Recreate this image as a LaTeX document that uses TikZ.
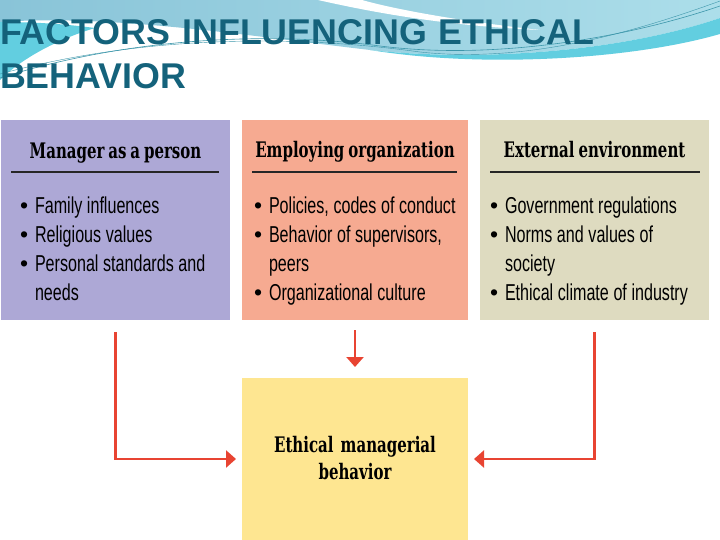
\documentclass[tikz,border=0pt]{standalone}
\usepackage{fontspec}
\setmainfont{Liberation Sans}
\newfontfamily\headfont[FakeStretch=0.7,WordSpace=0.75]{DejaVu Serif}
\newfontfamily\bodyfont[FakeStretch=0.7]{Liberation Sans}
\usetikzlibrary{arrows.meta}
\usetikzlibrary{positioning,calc}
\definecolor{boxpurple}{RGB}{173,168,214}
\definecolor{boxsalmon}{RGB}{246,170,145}
\definecolor{boxbeige}{RGB}{222,219,192}
\definecolor{boxyellow}{RGB}{254,230,145}
\definecolor{arrowred}{RGB}{232,68,50}
\definecolor{titleteal}{RGB}{20,98,123}
\definecolor{topblue}{RGB}{137,196,216}
\definecolor{paleblue}{RGB}{172,222,234}
\definecolor{swcyan}{RGB}{98,206,224}
\definecolor{swline}{RGB}{60,150,170}

\newcommand{\bodysize}{\fontsize{23}{29}\selectfont\spaceskip=4.6pt plus 1pt minus 1pt\relax}
\newcommand{\bitem}[1]{\par\noindent\hangindent=15pt\hangafter=1\hbox to 15pt{\strut\normalfont\textbullet\hss}#1}

\tikzset{
	every node/.style={inner sep=0pt,outer sep=0pt}
}
\tikzset{
	factor box/.style={rectangle,minimum width=229pt,minimum height=200pt},
	head text/.style={font=\headfont\bfseries\fontsize{21.4}{27.5}\selectfont,anchor=base},
	body text/.style={font=\bodyfont,anchor=north west,text width=215pt},
	head rule/.style={line width=1.3pt,black!85},
	flow/.style={-{Triangle[length=10pt,width=17pt]},line width=2.6pt,arrowred}
}

\begin{document}
\begin{tikzpicture}[x=1pt,y=-1pt]
	\useasboundingbox (0,0) rectangle (720,540);
	% slide background
	\shade[left color=topblue,right color=paleblue] (0,0) -- (720,0) -- (720,18) .. controls (620,52) and (480,62) .. (370,50) .. controls (250,36) and (110,14) .. (0,22) -- cycle;
	\fill[swcyan] (720,18) .. controls (620,52) and (480,62) .. (370,50) .. controls (480,68) and (630,60) .. (720,34) -- cycle;
	\fill[swcyan] (0,22) .. controls (35,22) and (65,24) .. (95,28) .. controls (55,40) and (20,60) .. (0,80) -- cycle;
	\fill[white] (318,0) .. controls (380,14) and (450,26) .. (540,30) .. controls (450,20) and (390,8) .. (362,0) -- cycle;
	\draw[swline,line width=0.6pt] (0,78) .. controls (120,40) and (260,30) .. (380,46) .. controls (490,60) and (620,40) .. (720,6);
	\draw[swline,line width=0.4pt] (0,74) .. controls (140,36) and (290,34) .. (420,52) .. controls (530,64) and (640,30) .. (720,1);

	\node[anchor=north west,text width=700pt,font=\bfseries\fontsize{35.8}{44}\selectfont,text=titleteal] (title) at (0,13.5) {\noindent\strut FACTORS INFLUENCING ETHICAL\\BEHAVIOR};

	\node[factor box,fill=boxpurple] (man) at (115.5,220) {};
	\node[factor box,fill=boxsalmon,minimum width=226pt,right=12pt of man] (org) {};
	\node[factor box,fill=boxbeige,right=12pt of org] (ext) {};
	\node[factor box,fill=boxyellow,minimum width=226pt,minimum height=162pt,below=58pt of org] (eth) {};

	\node[head text] (manhead) at ([yshift=-38.3pt]man.north) {Manager as a person};
	\node[head text] (orghead) at ([yshift=-38pt]org.north) {Employing organization};
	\node[head text] (exthead) at ([yshift=-38pt]ext.north) {External environment};

	\draw[head rule] ([xshift=10pt,yshift=-52pt]man.north west) -- ([xshift=-11pt,yshift=-52pt]man.north east);
	\draw[head rule] ([xshift=10pt,yshift=-52pt]org.north west) -- ([xshift=-11pt,yshift=-52pt]org.north east);
	\draw[head rule] ([xshift=10pt,yshift=-52pt]ext.north west) -- ([xshift=-9pt,yshift=-52pt]ext.north east);

	\node[body text] (manlist) at ([xshift=19pt,yshift=-64.2pt]man.north west) {\bodysize\raggedright\bitem{Family influences}\bitem{Religious values}\bitem{Personal standards and\newline needs}\par};
	\node[body text] (orglist) at ([xshift=12pt,yshift=-64.2pt]org.north west) {\bodysize\raggedright\bitem{Policies, codes of conduct}\bitem{Behavior of supervisors,\newline peers}\bitem{Organizational culture}\par};
	\node[body text] (extlist) at ([xshift=10pt,yshift=-64.2pt]ext.north west) {\bodysize\raggedright\bitem{Government regulations}\bitem{Norms and values of\newline society}\bitem{Ethical climate of industry}\par};

	\node[head text,anchor=north,text width=210pt,align=center] (ethtext) at ([yshift=-55.2pt]eth.north) {\strut Ethical managerial\\behavior};

	\draw[flow,shorten <=12pt,shorten >=6pt] (man.south) |- (eth.west);
	\draw[flow,shorten <=10pt,shorten >=11pt] (org.south) -- (eth.north);
	\draw[flow,shorten <=12pt,shorten >=6pt] (ext.south) |- (eth.east);
\end{tikzpicture}
\end{document}
